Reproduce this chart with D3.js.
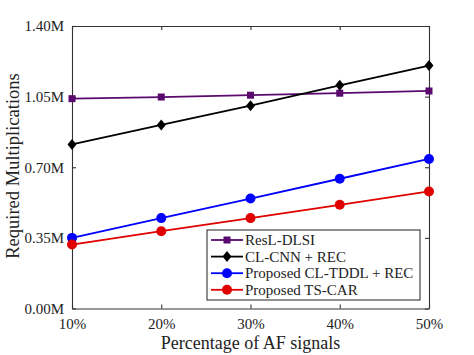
<!DOCTYPE html>
<html><head><meta charset="utf-8">
<script src="https://cdn.jsdelivr.net/npm/d3@7"></script>
<style>
body{margin:0;background:#fff;}
svg{display:block;font-family:"Liberation Serif","Times New Roman",serif;}
</style></head>
<body>
<svg id="chart" width="474" height="355"></svg>
<script>
const categories = ["10%","20%","30%","40%","50%"];
const reslDlsi = [1.040, 1.048, 1.057, 1.067, 1.078];
const clCnnRec = [0.813, 0.910, 1.005, 1.106, 1.204];
const clTddlRec = [0.350, 0.448, 0.545, 0.643, 0.741];
const tsCar = [0.317, 0.383, 0.448, 0.514, 0.580];
const yTicks = [0, 0.35, 0.70, 1.05, 1.40];
const seriesNames = ["ResL-DLSI","CL-CNN + REC","Proposed CL-TDDL + REC","Proposed TS-CAR"];

const series = [
  {name: seriesNames[0], values: reslDlsi, color: "#5a0a6e", marker: "square"},
  {name: seriesNames[1], values: clCnnRec, color: "#000000", marker: "diamond"},
  {name: seriesNames[2], values: clTddlRec, color: "#0000ff", marker: "circle"},
  {name: seriesNames[3], values: tsCar, color: "#e00000", marker: "circle"}
];

const svg = d3.select("#chart");
const L = 72, R = 429, T = 26, B = 308.5;
const x = d3.scalePoint().domain(categories).range([L, R]);
const y = d3.scaleLinear().domain([0, 1.4]).range([B, T]);
const axisColor = "#333";

function styleAxis(g){
  g.attr("font-family", null).attr("font-size", null);
  g.select(".domain").attr("stroke", axisColor).attr("stroke-width", 1.1);
  g.selectAll(".tick line").attr("stroke", axisColor).attr("stroke-width", 1.1);
  g.selectAll(".tick text").attr("fill", "#222").style("font-size", "15px");
}

// bottom
svg.append("g").attr("transform", `translate(0,${B})`)
  .call(d3.axisBottom(x).tickSizeInner(-4).tickSizeOuter(0).tickPadding(10))
  .call(styleAxis);
// top
svg.append("g").attr("transform", `translate(0,${T})`)
  .call(d3.axisTop(x).tickSizeInner(-4).tickSizeOuter(0).tickFormat(""))
  .call(styleAxis);
// left
svg.append("g").attr("transform", `translate(${L},0)`)
  .call(d3.axisLeft(y).tickValues(yTicks).tickSizeInner(-4).tickSizeOuter(0).tickPadding(8)
    .tickFormat(d => d.toFixed(2) + "M"))
  .call(styleAxis);
// right
svg.append("g").attr("transform", `translate(${R},0)`)
  .call(d3.axisRight(y).tickValues(yTicks).tickSizeInner(-4).tickSizeOuter(0).tickFormat(""))
  .call(styleAxis);

const line = d3.line().x((d,i) => x(categories[i])).y(d => y(d));

function drawMarker(g, type, cx, cy, color){
  if (type === "square") {
    g.append("rect").attr("x", cx-3.5).attr("y", cy-3.5).attr("width", 7).attr("height", 7).attr("fill", color);
  } else if (type === "diamond") {
    g.append("path").attr("d", `M${cx},${cy-5.5}L${cx+4.5},${cy}L${cx},${cy+5.5}L${cx-4.5},${cy}Z`).attr("fill", color);
  } else {
    g.append("circle").attr("cx", cx).attr("cy", cy).attr("r", 5).attr("fill", color);
  }
}

series.forEach(s => {
  const g = svg.append("g");
  g.append("path").datum(s.values).attr("d", line).attr("fill", "none")
    .attr("stroke", s.color).attr("stroke-width", 1.8);
  s.values.forEach((v,i) => drawMarker(g, s.marker, x(categories[i]), y(v), s.color));
});

// legend
const lg = svg.append("g");
lg.append("rect").attr("x", 207).attr("y", 230).attr("width", 213).attr("height", 70)
  .attr("fill", "#fff").attr("stroke", axisColor).attr("stroke-width", 1.1);
series.forEach((s,i) => {
  const yy = 240 + i*16.6;
  lg.append("line").attr("x1", 211).attr("x2", 243).attr("y1", yy).attr("y2", yy)
    .attr("stroke", s.color).attr("stroke-width", 1.8);
  drawMarker(lg, s.marker, 227, yy, s.color);
  lg.append("text").attr("x", 245).attr("y", yy + 5).text(s.name)
    .style("font-size", "15px").attr("fill", "#222");
});

// axis titles
svg.append("text").attr("x", (L+R)/2).attr("y", 349).attr("text-anchor", "middle")
  .style("font-size", "18px").attr("fill", "#222").text("Percentage of AF signals");
svg.append("text").attr("transform", `translate(19,166) rotate(-90)`).attr("text-anchor", "middle")
  .style("font-size", "18.5px").attr("fill", "#222").text("Required Multiplications");
</script>
</body></html>
